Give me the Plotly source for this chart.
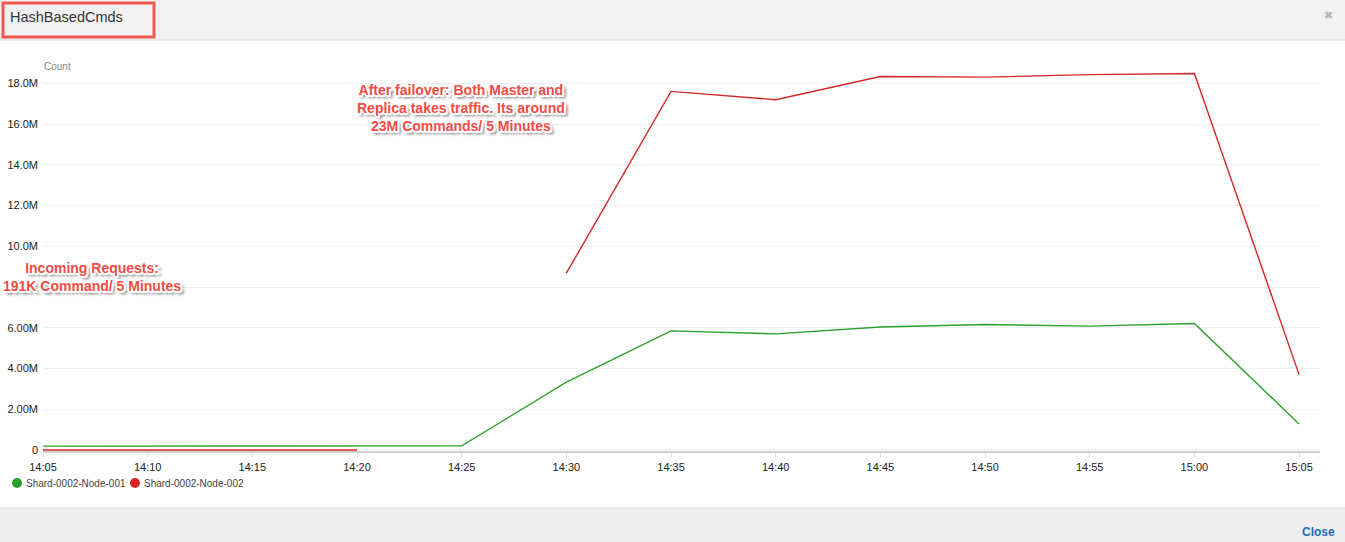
import plotly.graph_objects as go

# Data
times = ["14:05", "14:10", "14:15", "14:20", "14:25", "14:30", "14:35",
         "14:40", "14:45", "14:50", "14:55", "15:00", "15:05"]
node_001 = [0.19e6, 0.19e6, 0.19e6, 0.19e6, 0.20e6, 3.33e6, 5.85e6,
            5.70e6, 6.04e6, 6.16e6, 6.08e6, 6.21e6, 1.28e6]
node_002 = [0, 0, 0, 0, None, 8.68e6, 17.61e6,
            17.20e6, 18.34e6, 18.31e6, 18.43e6, 18.49e6, 3.70e6]
series_names = ["Shard-0002-Node-001", "Shard-0002-Node-002"]
series_colors = ["#2ca02c", "#d62728"]
y_tickvals = [0, 2e6, 4e6, 6e6, 8e6, 10e6, 12e6, 14e6, 16e6, 18e6]
# the 8.00M label sits under the "Incoming Requests" note in the screenshot
y_ticktext = ["0", "2.00M", "4.00M", "6.00M", "",
              "10.0M", "12.0M", "14.0M", "16.0M", "18.0M"]

x = ["2017-06-01 " + t for t in times]

# plot area in pixels
L, R, T, B = 43, 1320, 60, 451
W, H = 1345, 542


def px(v):
    return (v - L) / (R - L)


def py(v):
    return (B - v) / (B - T)


def label(xp, yp, text, font, xanchor="center", **kw):
    fig.add_annotation(xref="paper", yref="paper", x=px(xp), y=py(yp),
                       text=text, showarrow=False, yanchor="middle",
                       xanchor=xanchor, font=font, **kw)


fig = go.Figure()
for name, vals, col in zip(series_names, [node_001, node_002], series_colors):
    fig.add_trace(go.Scatter(x=x, y=vals, mode="lines", name=name,
                             line=dict(color=col, width=1.4),
                             connectgaps=False, showlegend=False))

shadow = ("-1px -1px 0 #fff, 1px -1px 0 #fff, -1px 1px 0 #fff, 1px 1px 0 #fff, "
          "-2px 0 0 #fff, 2px 0 0 #fff, 0 2px 0 #fff, 0 -2px 0 #fff, "
          "2px 2px 0 #fff, 3px 3px 3px #444")
note_font = dict(family="Liberation Sans, Arial, sans-serif", size=14,
                 color="#f24c45", weight="bold", shadow=shadow)

label(461, 108, "After failover: Both Master and<br>Replica takes traffic. Its around<br>23M Commands/ 5 Minutes",
      note_font, align="center")
label(92, 277, "Incoming Requests:<br>191K Command/ 5 Minutes", note_font, align="center")

# axis caption
label(57, 67, "Count", dict(size=10, color="#888"))

# legend drawn as round swatches + text
leg_x = [17, 135]
for lx, name, col in zip(leg_x, series_names, series_colors):
    fig.add_shape(type="circle", xref="paper", yref="paper",
                  x0=px(lx - 5), x1=px(lx + 5), y0=py(488), y1=py(478),
                  fillcolor=col, line=dict(width=0))
    label(lx + 7, 483, name, dict(size=10, color="#444"), xanchor="left")

# header / footer of the dialog
fig.add_shape(type="rect", xref="paper", yref="paper", layer="below",
              x0=px(0), x1=px(W), y0=py(40), y1=py(0),
              fillcolor="#f1f1f1", line=dict(width=0))
fig.add_shape(type="line", xref="paper", yref="paper",
              x0=px(0), x1=px(W), y0=py(40), y1=py(40),
              line=dict(color="#dcdcdc", width=1))
fig.add_shape(type="rect", xref="paper", yref="paper", layer="below",
              x0=px(0), x1=px(W), y0=py(542), y1=py(508),
              fillcolor="#eeeeee", line=dict(width=0))
fig.add_shape(type="line", xref="paper", yref="paper",
              x0=px(0), x1=px(W), y0=py(508), y1=py(508),
              line=dict(color="#dcdcdc", width=1))
# red highlight box around title
fig.add_shape(type="rect", xref="paper", yref="paper",
              x0=px(3), x1=px(154), y0=py(37), y1=py(3),
              fillcolor="rgba(0,0,0,0)", line=dict(color="#ef5a50", width=3))
label(8, 17, "HashBasedCmds", dict(size=14.5, color="#333"), xanchor="left")
label(1328, 15, "✖", dict(size=11, color="#b5b5b5"))
label(1318, 532, "<b>Close</b>", dict(size=12, color="#1f6bb5"))

fig.update_layout(
    width=W, height=H,
    margin=dict(l=L, r=W - R, t=T, b=H - B),
    paper_bgcolor="white", plot_bgcolor="white",
    font=dict(family="Liberation Sans, Arial, sans-serif", size=11, color="#222"),
    showlegend=False,
)
fig.update_xaxes(range=["2017-06-01 14:05", "2017-06-01 15:06"],
                 tickformat="%H:%M", dtick=300000, tick0="2017-06-01 14:05",
                 showgrid=False, showline=True, linecolor="#d0d0d0", linewidth=2,
                 ticks="outside", ticklen=5, tickcolor="#e3e3e3",
                 tickfont=dict(size=11, color="#222"), zeroline=False,
                 automargin=False, layer="below traces")
fig.update_yaxes(range=[-0.05e6, 19.15e6], tickvals=y_tickvals, ticktext=y_ticktext,
                 showgrid=True, gridcolor="#efefef", gridwidth=1,
                 zeroline=False, ticks="", ticklabelstandoff=4,
                 tickfont=dict(size=11, color="#222"), automargin=False)

fig.write_html("out.html", config={"displayModeBar": False},
               post_script="document.body.style.margin='0';")
